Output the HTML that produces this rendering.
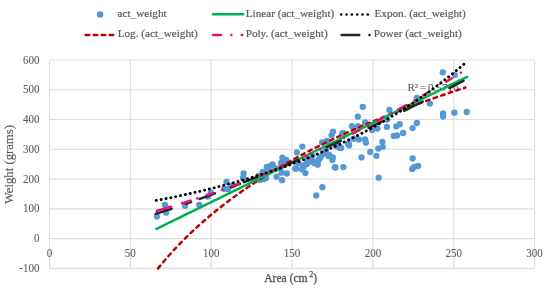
<!DOCTYPE html>
<html><head><meta charset="utf-8"><style>
html,body{margin:0;padding:0;background:#fff;}
svg{display:block;}
text{font-family:"Liberation Serif",serif;stroke:#595959;stroke-width:0.2px;}
.tk{stroke-width:0.06px;}
</style></head><body>
<svg width="550" height="292" viewBox="0 0 550 292">
<rect width="550" height="292" fill="#fff"/>
<g stroke="#dcdcdc" stroke-width="1.1"><line x1="49.5" x2="534.6" y1="268.37" y2="268.37"/><line x1="49.5" x2="534.6" y1="238.60" y2="238.60"/><line x1="49.5" x2="534.6" y1="208.83" y2="208.83"/><line x1="49.5" x2="534.6" y1="179.06" y2="179.06"/><line x1="49.5" x2="534.6" y1="149.29" y2="149.29"/><line x1="49.5" x2="534.6" y1="119.52" y2="119.52"/><line x1="49.5" x2="534.6" y1="89.75" y2="89.75"/><line x1="49.5" x2="534.6" y1="59.98" y2="59.98"/><line y1="59.98" y2="268.37" x1="49.50" x2="49.50"/><line y1="59.98" y2="268.37" x1="130.35" x2="130.35"/><line y1="59.98" y2="268.37" x1="211.20" x2="211.20"/><line y1="59.98" y2="268.37" x1="292.05" x2="292.05"/><line y1="59.98" y2="268.37" x1="372.90" x2="372.90"/><line y1="59.98" y2="268.37" x1="453.75" x2="453.75"/><line y1="59.98" y2="268.37" x1="534.60" x2="534.60"/></g>
<g fill="#595959" font-size="11"><text class="tk" transform="translate(39.4 271.97) scale(1 1.08)" text-anchor="end">-100</text><text class="tk" transform="translate(39.4 242.20) scale(1 1.08)" text-anchor="end">0</text><text class="tk" transform="translate(39.4 212.43) scale(1 1.08)" text-anchor="end">100</text><text class="tk" transform="translate(39.4 182.66) scale(1 1.08)" text-anchor="end">200</text><text class="tk" transform="translate(39.4 152.89) scale(1 1.08)" text-anchor="end">300</text><text class="tk" transform="translate(39.4 123.12) scale(1 1.08)" text-anchor="end">400</text><text class="tk" transform="translate(39.4 93.35) scale(1 1.08)" text-anchor="end">500</text><text class="tk" transform="translate(39.4 63.58) scale(1 1.08)" text-anchor="end">600</text><text class="tk" transform="translate(49.50 256.7) scale(1 1.08)" text-anchor="middle">0</text><text class="tk" transform="translate(130.35 256.7) scale(1 1.08)" text-anchor="middle">50</text><text class="tk" transform="translate(211.20 256.7) scale(1 1.08)" text-anchor="middle">100</text><text class="tk" transform="translate(292.05 256.7) scale(1 1.08)" text-anchor="middle">150</text><text class="tk" transform="translate(372.90 256.7) scale(1 1.08)" text-anchor="middle">200</text><text class="tk" transform="translate(453.75 256.7) scale(1 1.08)" text-anchor="middle">250</text><text class="tk" transform="translate(534.60 256.7) scale(1 1.08)" text-anchor="middle">300</text></g>
<text x="0" y="0" font-size="12.7" fill="#595959" style="stroke-width:0.15px" text-anchor="middle" transform="translate(13 164.6) rotate(-90)">Weight (grams)</text>
<text x="264.2" y="282.2" font-size="11.6" fill="#595959" style="stroke-width:0.32px">Area (cm<tspan font-size="8" dx="1.6" dy="-4.8">2</tspan><tspan dy="4.8">)</tspan></text>
<g fill="#5697d5"><circle cx="156.9" cy="216.6" r="3.15"/><circle cx="164.9" cy="205.0" r="3.15"/><circle cx="166.2" cy="212.7" r="3.15"/><circle cx="185.1" cy="205.8" r="3.15"/><circle cx="199.3" cy="205.0" r="3.15"/><circle cx="207.8" cy="196.6" r="3.15"/><circle cx="210.9" cy="192.7" r="3.15"/><circle cx="226.5" cy="181.8" r="3.15"/><circle cx="224.2" cy="188.8" r="3.15"/><circle cx="228.0" cy="189.0" r="3.15"/><circle cx="232.8" cy="185.3" r="3.15"/><circle cx="243.6" cy="173.4" r="3.15"/><circle cx="243.0" cy="178.0" r="3.15"/><circle cx="262.8" cy="171.8" r="3.15"/><circle cx="266.8" cy="167.0" r="3.15"/><circle cx="263.4" cy="179.2" r="3.15"/><circle cx="272.6" cy="164.4" r="3.15"/><circle cx="275.5" cy="168.5" r="3.15"/><circle cx="282.4" cy="157.7" r="3.15"/><circle cx="286.4" cy="159.9" r="3.15"/><circle cx="281.0" cy="163.0" r="3.15"/><circle cx="283.8" cy="162.4" r="3.15"/><circle cx="276.6" cy="176.7" r="3.15"/><circle cx="281.6" cy="172.7" r="3.15"/><circle cx="286.8" cy="173.5" r="3.15"/><circle cx="282.1" cy="180.2" r="3.15"/><circle cx="280.3" cy="168.2" r="3.15"/><circle cx="296.9" cy="152.4" r="3.15"/><circle cx="295.8" cy="168.7" r="3.15"/><circle cx="302.3" cy="146.6" r="3.15"/><circle cx="303.5" cy="167.0" r="3.15"/><circle cx="295.4" cy="168.5" r="3.15"/><circle cx="303.9" cy="165.4" r="3.15"/><circle cx="305.4" cy="173.1" r="3.15"/><circle cx="301.6" cy="169.3" r="3.15"/><circle cx="311.6" cy="161.6" r="3.15"/><circle cx="317.8" cy="164.7" r="3.15"/><circle cx="318.5" cy="160.0" r="3.15"/><circle cx="323.2" cy="154.0" r="3.15"/><circle cx="328.6" cy="156.2" r="3.15"/><circle cx="332.4" cy="160.0" r="3.15"/><circle cx="334.8" cy="167.3" r="3.15"/><circle cx="322.4" cy="187.2" r="3.15"/><circle cx="316.2" cy="195.5" r="3.15"/><circle cx="307.0" cy="160.4" r="3.15"/><circle cx="313.0" cy="161.7" r="3.15"/><circle cx="310.0" cy="159.7" r="3.15"/><circle cx="312.4" cy="156.1" r="3.15"/><circle cx="320.8" cy="156.7" r="3.15"/><circle cx="324.4" cy="152.5" r="3.15"/><circle cx="329.2" cy="155.0" r="3.15"/><circle cx="332.8" cy="157.3" r="3.15"/><circle cx="333.0" cy="131.6" r="3.15"/><circle cx="331.6" cy="135.3" r="3.15"/><circle cx="322.2" cy="142.4" r="3.15"/><circle cx="326.9" cy="141.0" r="3.15"/><circle cx="342.3" cy="133.4" r="3.15"/><circle cx="340.0" cy="147.2" r="3.15"/><circle cx="335.7" cy="146.0" r="3.15"/><circle cx="348.3" cy="144.2" r="3.15"/><circle cx="339.4" cy="147.8" r="3.15"/><circle cx="362.8" cy="106.8" r="3.15"/><circle cx="357.8" cy="116.7" r="3.15"/><circle cx="352.0" cy="126.2" r="3.15"/><circle cx="358.1" cy="126.2" r="3.15"/><circle cx="365.1" cy="122.4" r="3.15"/><circle cx="372.0" cy="130.1" r="3.15"/><circle cx="377.4" cy="128.5" r="3.15"/><circle cx="343.5" cy="133.2" r="3.15"/><circle cx="365.1" cy="139.4" r="3.15"/><circle cx="358.9" cy="139.5" r="3.15"/><circle cx="353.5" cy="138.7" r="3.15"/><circle cx="382.4" cy="141.8" r="3.15"/><circle cx="348.9" cy="144.0" r="3.15"/><circle cx="341.2" cy="148.1" r="3.15"/><circle cx="349.2" cy="145.5" r="3.15"/><circle cx="365.9" cy="142.7" r="3.15"/><circle cx="370.2" cy="152.0" r="3.15"/><circle cx="361.5" cy="157.4" r="3.15"/><circle cx="376.4" cy="155.8" r="3.15"/><circle cx="378.2" cy="148.6" r="3.15"/><circle cx="382.8" cy="146.8" r="3.15"/><circle cx="343.4" cy="167.1" r="3.15"/><circle cx="335.5" cy="167.5" r="3.15"/><circle cx="378.7" cy="177.7" r="3.15"/><circle cx="389.4" cy="109.9" r="3.15"/><circle cx="416.9" cy="97.9" r="3.15"/><circle cx="429.9" cy="103.6" r="3.15"/><circle cx="387.2" cy="119.6" r="3.15"/><circle cx="386.9" cy="126.9" r="3.15"/><circle cx="396.3" cy="126.4" r="3.15"/><circle cx="399.7" cy="124.2" r="3.15"/><circle cx="403.1" cy="133.0" r="3.15"/><circle cx="393.7" cy="135.9" r="3.15"/><circle cx="397.1" cy="135.5" r="3.15"/><circle cx="412.6" cy="128.1" r="3.15"/><circle cx="416.9" cy="123.0" r="3.15"/><circle cx="412.6" cy="158.4" r="3.15"/><circle cx="418.1" cy="165.9" r="3.15"/><circle cx="414.3" cy="166.9" r="3.15"/><circle cx="412.2" cy="169.0" r="3.15"/><circle cx="260.0" cy="180.0" r="3.15"/><circle cx="266.0" cy="178.0" r="3.15"/><circle cx="268.0" cy="170.0" r="3.15"/><circle cx="270.5" cy="166.0" r="3.15"/><circle cx="258.5" cy="176.0" r="3.15"/><circle cx="298.7" cy="163.3" r="3.15"/><circle cx="306.9" cy="164.0" r="3.15"/><circle cx="314.0" cy="163.0" r="3.15"/><circle cx="320.0" cy="158.0" r="3.15"/><circle cx="326.0" cy="150.5" r="3.15"/><circle cx="442.8" cy="72.3" r="3.15"/><circle cx="454.8" cy="75.1" r="3.15"/><circle cx="443.1" cy="113.5" r="3.15"/><circle cx="443.1" cy="116.6" r="3.15"/><circle cx="454.4" cy="112.7" r="3.15"/><circle cx="466.7" cy="112.0" r="3.15"/></g>
<rect x="406.8" y="81" width="49" height="12" fill="#fff"/><text x="407.4" y="91" font-size="11.2" fill="#595959" word-spacing="-1.1" style="stroke-width:0.08px">R² = 0.5716</text>
<g fill="none" stroke-width="2.5" stroke-linecap="round" stroke-linejoin="round">
<polyline points="158.08,268.35 161.92,263.67 165.76,259.14 169.61,254.77 173.45,250.53 177.29,246.42 181.13,242.43 184.97,238.56 188.81,234.80 192.65,231.14 196.50,227.57 200.34,224.10 204.18,220.71 208.02,217.41 211.86,214.19 215.70,211.04 219.54,207.96 223.39,204.96 227.23,202.01 231.07,199.14 234.91,196.32 238.75,193.56 242.59,190.85 246.43,188.20 250.27,185.60 254.12,183.05 257.96,180.54 261.80,178.09 265.64,175.67 269.48,173.30 273.32,170.97 277.16,168.68 281.01,166.43 284.85,164.21 288.69,162.03 292.53,159.89 296.37,157.78 300.21,155.70 304.05,153.65 307.90,151.63 311.74,149.65 315.58,147.69 319.42,145.76 323.26,143.86 327.10,141.98 330.94,140.13 334.79,138.31 338.63,136.51 342.47,134.73 346.31,132.98 350.15,131.24 353.99,129.54 357.83,127.85 361.67,126.18 365.52,124.53 369.36,122.91 373.20,121.30 377.04,119.71 380.88,118.14 384.72,116.59 388.56,115.06 392.41,113.54 396.25,112.04 400.09,110.56 403.93,109.09 407.77,107.64 411.61,106.20 415.45,104.78 419.30,103.38 423.14,101.99 426.98,100.61 430.82,99.25 434.66,97.90 438.50,96.56 442.34,95.24 446.19,93.93 450.03,92.63 453.87,91.35 457.71,90.07 461.55,88.81 465.39,87.56" stroke="#c00000" stroke-dasharray="3.5 4.5" stroke-dashoffset="0.00"/>
<polyline points="156.38,228.92 160.27,227.02 164.15,225.12 168.03,223.22 171.91,221.32 175.80,219.42 179.68,217.52 183.56,215.62 187.45,213.72 191.33,211.82 195.21,209.92 199.09,208.02 202.98,206.12 206.86,204.22 210.74,202.32 214.63,200.42 218.51,198.52 222.39,196.61 226.27,194.71 230.16,192.81 234.04,190.91 237.92,189.01 241.81,187.11 245.69,185.21 249.57,183.31 253.45,181.41 257.34,179.51 261.22,177.61 265.10,175.71 268.99,173.81 272.87,171.91 276.75,170.01 280.63,168.11 284.52,166.21 288.40,164.31 292.28,162.40 296.17,160.50 300.05,158.60 303.93,156.70 307.81,154.80 311.70,152.90 315.58,151.00 319.46,149.10 323.35,147.20 327.23,145.30 331.11,143.40 334.99,141.50 338.88,139.60 342.76,137.70 346.64,135.80 350.52,133.90 354.41,132.00 358.29,130.09 362.17,128.19 366.06,126.29 369.94,124.39 373.82,122.49 377.70,120.59 381.59,118.69 385.47,116.79 389.35,114.89 393.24,112.99 397.12,111.09 401.00,109.19 404.88,107.29 408.77,105.39 412.65,103.49 416.53,101.59 420.42,99.69 424.30,97.78 428.18,95.88 432.06,93.98 435.95,92.08 439.83,90.18 443.71,88.28 447.60,86.38 451.48,84.48 455.36,82.58 459.24,80.68 463.13,78.78 467.01,76.88" stroke="#00b050"/>
<path d="M155.90,213.81 L158.14,213.09 L160.39,212.37 L162.63,211.65 L164.87,210.92 L167.11,210.18 L169.36,209.44 L171.60,208.69 M186.00,203.79 L188.50,202.92 L191.00,202.04 M199.80,198.91 L201.96,198.13 L204.11,197.35 L206.27,196.56 L208.43,195.77 L210.59,194.98 L212.74,194.18 L214.90,193.38 M231.00,187.28 L233.25,186.41 L235.50,185.54 L237.75,184.66 L240.00,183.78 M244.00,182.21 L246.17,181.35 L248.33,180.49 L250.50,179.62 L252.67,178.76 L254.83,177.89 L257.00,177.01 M286.00,165.00 L288.05,164.13 L290.10,163.25 L292.15,162.38 L294.20,161.50 L296.25,160.62 L298.30,159.73 M326.80,147.18 L329.12,146.13 L331.43,145.09 L333.75,144.04 L336.07,142.99 L338.38,141.93 L340.70,140.88 M368.70,127.86 L370.80,126.86 L372.90,125.87 L375.00,124.87 L377.10,123.87 L379.20,122.87 L381.30,121.86 M404.10,110.80 L406.17,109.78 L408.23,108.76 L410.30,107.74 L412.37,106.72 L414.43,105.70 L416.50,104.67 L418.57,103.64 L420.63,102.61 L422.70,101.58 M449.40,88.05 L451.41,87.02 L453.43,85.98 L455.44,84.95 L457.46,83.91 L459.47,82.87 L461.49,81.82 L463.50,80.78" stroke="#262626"/>
<path d="M156.80,210.84 L158.83,210.26 L160.86,209.67 L162.89,209.08 L164.91,208.49 L166.94,207.89 L168.97,207.28 L171.00,206.68 M182.00,203.30 L184.15,202.62 L186.30,201.94 L188.45,201.26 L190.60,200.57 M197.20,198.41 L197.40,198.34 L197.60,198.28 M207.30,195.02 L210.05,194.08 L212.80,193.13 M222.00,189.88 L222.25,189.79 L222.50,189.70 M232.30,186.14 L234.43,185.35 L236.57,184.55 L238.70,183.75 M260.00,175.48 L262.65,174.42 L265.30,173.35 M270.70,171.14 L271.40,170.85 L272.10,170.56 M280.00,167.26 L282.00,166.41 L284.00,165.56 M305.40,156.17 L305.70,156.04 L306.00,155.90 M310.60,153.82 L310.85,153.70 L311.10,153.59 M320.25,149.36 L320.25,149.36 L320.26,149.35 M344.05,137.92 L344.05,137.92 L344.06,137.92 M353.00,133.46 L355.20,132.35 L357.40,131.23 L359.60,130.11 M367.75,125.91 L367.75,125.91 L367.76,125.90 M377.30,120.89 L380.15,119.37 L383.00,117.85 M391.70,113.13 L391.71,113.13 L391.71,113.13 M398.10,109.61 L400.18,108.46 L402.25,107.30 L404.32,106.14 L406.40,104.97 M414.40,100.43 L414.50,100.38 L414.60,100.32 M423.00,95.47 L425.17,94.21 L427.33,92.94 L429.50,91.67 M446.30,81.62 L449.00,79.97 L451.70,78.32 M460.80,72.69 L460.81,72.68 L460.81,72.68" stroke="#e8106a"/>
<polyline points="155.41,200.62 159.27,199.89 163.12,199.14 166.98,198.38 170.83,197.61 174.69,196.82 178.54,196.02 182.40,195.20 186.25,194.37 190.11,193.51 193.96,192.65 197.82,191.76 201.67,190.86 205.53,189.95 209.38,189.01 213.24,188.06 217.09,187.08 220.95,186.09 224.80,185.08 228.66,184.05 232.51,183.01 236.36,181.94 240.22,180.85 244.07,179.74 247.93,178.60 251.78,177.45 255.64,176.27 259.49,175.08 263.35,173.85 267.20,172.61 271.06,171.34 274.91,170.05 278.77,168.73 282.62,167.38 286.48,166.02 290.33,164.62 294.19,163.20 298.04,161.75 301.90,160.27 305.75,158.76 309.61,157.23 313.46,155.66 317.32,154.07 321.17,152.44 325.03,150.79 328.88,149.10 332.74,147.38 336.59,145.62 340.45,143.83 344.30,142.01 348.16,140.15 352.01,138.26 355.86,136.33 359.72,134.36 363.57,132.36 367.43,130.32 371.28,128.23 375.14,126.11 378.99,123.95 382.85,121.74 386.70,119.50 390.56,117.21 394.41,114.87 398.27,112.49 402.12,110.07 405.98,107.60 409.83,105.08 413.69,102.51 417.54,99.89 421.40,97.22 425.25,94.51 429.11,91.73 432.96,88.91 436.82,86.03 440.67,83.10 444.53,80.11 448.38,77.06 452.24,73.95 456.09,70.79 459.95,67.56 463.80,64.27" stroke="#000" stroke-width="2.9" stroke-dasharray="0.1 4.834" stroke-dashoffset="4.061"/>
</g>
<g font-size="11.2" fill="#595959">
<circle cx="100.1" cy="14.4" r="3.25" fill="#5697d5"/>
<text x="117.5" y="16.6">act_weight</text>
<line x1="213" x2="243" y1="14.15" y2="14.15" stroke="#00b050" stroke-width="2.5" stroke-linecap="round"/>
<text x="245.7" y="16.6">Linear (act_weight)</text>
<line x1="341.2" x2="368" y1="14.4" y2="14.4" stroke="#000" stroke-width="2.5" stroke-linecap="round" stroke-dasharray="0.1 5.2"/>
<text x="374.5" y="16.6">Expon. (act_weight)</text>
<line x1="85.7" x2="114" y1="35.1" y2="35.1" stroke="#c00000" stroke-width="2.5" stroke-linecap="round" stroke-dasharray="3.5 4.5"/>
<text x="117.7" y="37.3">Log. (act_weight)</text>
<g stroke="#e8106a" stroke-width="2.5" stroke-linecap="round"><line x1="213.2" x2="221" y1="35.1" y2="35.1"/><line x1="231.3" x2="231.4" y1="35.1" y2="35.1"/><line x1="241.8" x2="242.3" y1="35.1" y2="35.1"/></g>
<text x="245.7" y="37.3">Poly. (act_weight)</text>
<g stroke="#262626" stroke-width="2.5" stroke-linecap="round"><line x1="341.6" x2="359.2" y1="35.1" y2="35.1"/><line x1="369.5" x2="369.6" y1="35.1" y2="35.1"/></g>
<text x="373.8" y="37.3">Power (act_weight)</text>
</g>
</svg>
</body></html>
